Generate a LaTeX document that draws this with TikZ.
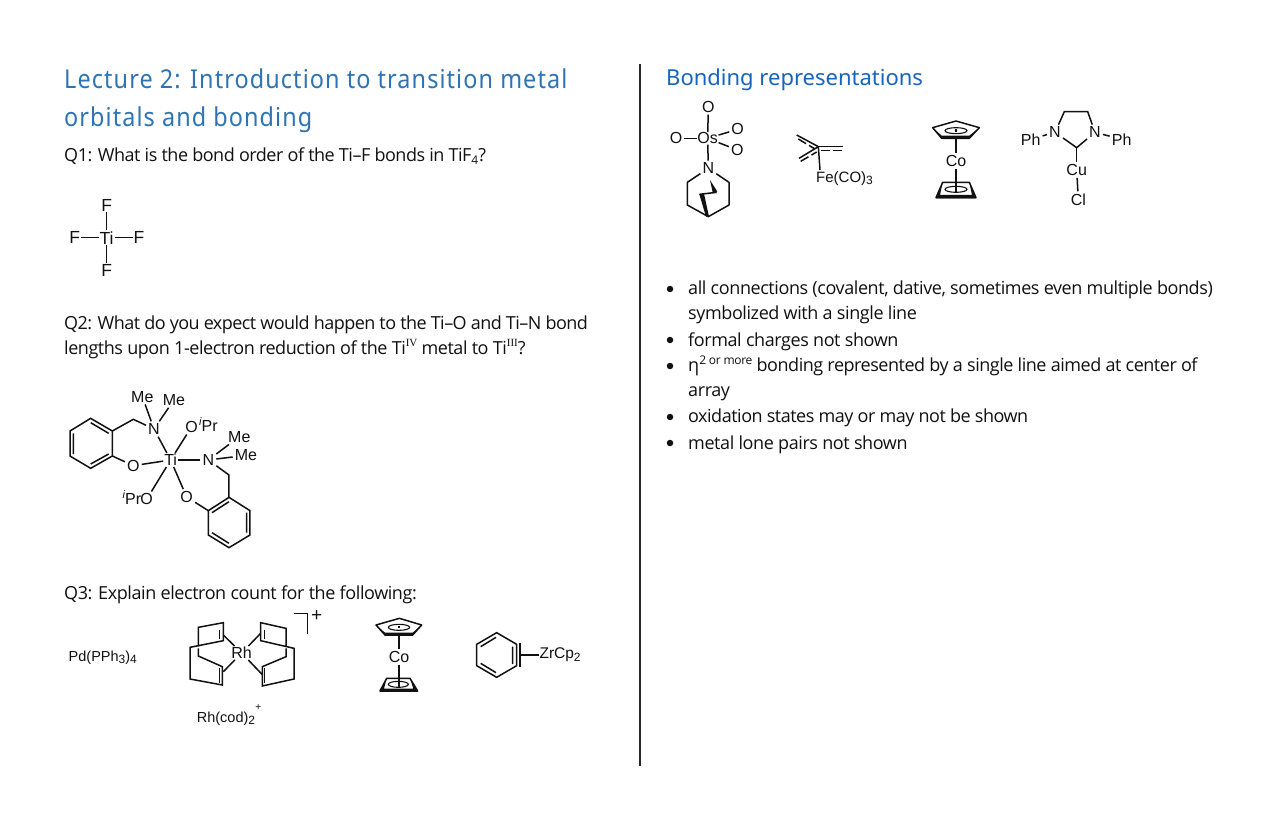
\documentclass[tikz,border=0pt]{standalone}
\usepackage{fontspec}
\setmainfont[LetterSpace=-2.3]{Open Sans}
\newfontfamily\arialf{Liberation Sans}
\newfontfamily\timesf{Liberation Serif}
\newfontfamily\titlef[LetterSpace=4.2,FakeStretch=0.9]{Noto Sans}
\newfontfamily\headf{Noto Sans}
\definecolor{titleblue}{HTML}{2E74B5}
\definecolor{headblue}{HTML}{1565C0}
\definecolor{ink}{HTML}{111111}
\tikzset{
  txt/.style={anchor=base west,inner sep=0pt,text=ink,font=\fontsize{18}{18}\selectfont},
  ttl/.style={anchor=base west,inner sep=0pt,text=titleblue,font=\fontsize{26}{26}\titlef},
  hd/.style={anchor=base west,inner sep=0pt,text=headblue,font=\fontsize{22}{22}\headf},
  atom/.style={inner sep=2pt,text=ink,font=\fontsize{16}{16}\arialf},
  bigatom/.style={inner sep=0.8pt,text=ink,font=\fontsize{17.5}{17}\arialf},
  lbl/.style={anchor=base west,inner sep=0pt,text=ink,font=\fontsize{14.5}{14}\arialf},
  bond/.style={draw=ink,line width=1.5pt},
  thin bond/.style={draw=ink,line width=1.1pt},
  zoomed/.style={x=0.33333pt,y=-0.33333pt},
  bulletdot/.style={circle,fill=ink,inner sep=0pt,minimum size=6.5pt},
  rule/.style={draw=ink!90,line width=1.2pt}
}
\newcommand{\sbs}[1]{\raisebox{-0.3ex}{\fontsize{12}{12}\selectfont #1}}
\newcommand{\sps}[1]{\raisebox{0.75ex}{\fontsize{11}{11}\timesf #1}}
\newcommand{\lsp}[1]{\addfontfeature{LetterSpace=#1}}
\begin{document}
\begin{tikzpicture}[x=1pt,y=-1pt]
\useasboundingbox (0,0) rectangle (1280,832);
\fill[white] (0,0) rectangle (1280,832);
% divider
\coordinate (ruleA) at (640,64); \coordinate (ruleB) at (640,766);
\draw[rule] (ruleA) -- (ruleB);
% left text
\node[ttl] (t1) at (64,89) {Lecture 2: Introduction to transition metal};
\node[ttl] (t2) at (64,127) {orbitals and bonding};
\node[txt] (q1) at (64,162) {\lsp{-2.7}Q1: What is the bond order of the Ti–F bonds in TiF\sbs{4}?};
\node[txt] (q2a) at (64,329) {\lsp{-3.05}Q2: What do you expect would happen to the Ti–O and Ti–N bond};
\node[txt] (q2b) at (64,354) {\lsp{-2.5}lengths upon 1-electron reduction of the Ti\sps{IV} metal to Ti\sps{III}?};
\node[txt] (q3) at (64,599) {Q3: Explain electron count for the following:};
% right text
\node[hd] (h1) at (666,86) {Bonding representations};
\node[txt] (b1) at (688,294) {all connections (covalent, dative, sometimes even multiple bonds)};
\node[txt] (b1b) at (688,319) {symbolized with a single line};
\node[txt] (b2) at (688,346) {formal charges not shown};
\node[txt] (b3) at (688,371) {\lsp{-2.6}η\raisebox{0.7ex}{\fontsize{12}{12}\selectfont 2 or more} bonding represented by a single line aimed at center of};
\node[txt] (b3b) at (688,396) {array};
\node[txt] (b4) at (688,422) {\lsp{-2.7}oxidation states may or may not be shown};
\node[txt] (b5) at (688,449) {metal lone pairs not shown};
\foreach \n/\yy in {d1/289,d2/340,d3/366,d4/417,d5/443}
  \node[bulletdot] (\n) at (670,\yy) {};

% TiF4
\begin{scope}[shift={(50,190)},zoomed]
\node[bigatom] (ti) at (170,143) {Ti};
\node[bigatom] (fa) at (170,45) {F};
\node[bigatom] (fb) at (74,143) {F};
\node[bigatom] (fc) at (267,143) {F};
\node[bigatom] (fd) at (170,240) {F};
\draw[bond] (ti)--(fa); \draw[bond] (ti)--(fb); \draw[bond] (ti)--(fc); \draw[bond] (ti)--(fd);
\end{scope}

% Ti complex
\begin{scope}[shift={(50,380)},zoomed]
\node[atom,inner sep=1pt] (tib) at (362,240) {Ti};
\node[atom] (n1) at (312,147) {N};
\node[atom] (n2) at (475,240) {N};
\node[atom] (o1) at (250,257) {O};
\node[atom] (o3) at (425,140) {O};
\node[atom,anchor=base west,inner sep=0pt] (oipr) at (447,153) {\raisebox{0.7ex}{\fontsize{11}{11}\selectfont\itshape i}Pr};
\node[atom] (o4) at (290,358) {O};
\node[atom,anchor=base east,inner sep=0pt] (ipr) at (274,373) {\raisebox{0.7ex}{\fontsize{11}{11}\selectfont\itshape i}Pr};
\node[atom] (o5) at (410,351) {O};
\node[atom] (me1) at (277,50) {Me};
\node[atom] (me2) at (372,60) {Me};
\node[atom] (me3) at (568,170) {Me};
\node[atom] (me4) at (588,226) {Me};
\draw[bond] (60,153)--(122,115)--(187,153)--(187,228)--(122,265)--(60,228)--cycle;
\draw[bond] (70,160)--(70,222) (122,128)--(176,160) (176,222)--(122,252);
\coordinate (ch1) at (250,118);
\draw[bond] (187,153)--(ch1)--(n1);
\draw[bond] (187,228)--(o1);
\draw[bond] (n1)--(tib); \draw[bond] (o1)--(tib); \draw[bond] (n2)--(tib);
\draw[bond] (o3)--(tib); \draw[bond] (o4)--(tib); \draw[bond] (o5)--(tib);
\draw[bond] (n1)--(me1); \draw[bond] (n1)--(me2);
\draw[bond] (n2)--(me3); \draw[bond] (n2)--(me4);
\coordinate (ch2) at (537,285);
\draw[bond] (n2)--(ch2)--(537,352);
\draw[bond] (537,352)--(600,392)--(600,465)--(537,503)--(475,465)--(475,392)--cycle;
\draw[bond] (590,398)--(590,458) (537,490)--(486,458) (486,398)--(537,365);
\draw[bond] (o5)--(475,392);
\end{scope}

% Pd
\node[lbl] (pd) at (68.5,661) {Pd(PPh\sbs{3})\sbs{4}};

% Rh(cod)
\begin{scope}[shift={(170,600)},zoomed]
\node[atom,inner sep=1pt] (rh) at (215,159) {Rh};
\draw[bond,line join=miter] (85,140)--(85,82)--(160,68)--(160,122)--(60,142)--(60,237)--(157,255)--(157,200)--(85,168)--(85,145);
\draw[bond] (148,90)--(148,118) (148,205)--(148,250);
\draw[bond,line join=miter] (348,140)--(348,85)--(272,68)--(272,122)--(372,145)--(372,237)--(277,258)--(277,200)--(348,170)--(348,145);
\draw[bond] (284,90)--(284,118) (284,205)--(284,250);
\coordinate (cl1) at (160,105); \coordinate (cl2) at (160,215);
\coordinate (cr1) at (272,100); \coordinate (cr2) at (278,225);
\draw[bond] (rh)--(cl1); \draw[bond] (rh)--(cl2); \draw[bond] (rh)--(cr1); \draw[bond] (rh)--(cr2);
\draw[bond,line join=miter] (373,40)--(413,40)--(413,102);
\node[atom,font=\fontsize{19}{19}\arialf] (plus) at (440,48) {+};
\node[lbl] (rhc) at (80,367) {Rh(cod)\sbs{2}};
\node[atom,font=\fontsize{10}{10}\arialf] (plusb) at (265,322) {+};
\end{scope}

% CoCp2 left
\begin{scope}[shift={(360,600)},zoomed]
\node[atom] (co) at (117,170) {Co};
\draw[bond,line join=round] (118,55)--(185,75)--(158,105)--(75,105)--(48,75)--cycle;
\fill[ink] (48,75)--(75,107)--(158,107)--(185,75)--(158,98)--(75,98)--cycle;
\draw[thin bond,fill=white] (117,82) ellipse [x radius=32,y radius=9];
\draw[thin bond] (117,78)--(117,85);
\coordinate (ctop) at (117,105); \coordinate (cbot) at (117,235);
\draw[bond] (ctop)--(co); \draw[bond] (co)--(cbot);
\draw[bond,line join=round] (80,235)--(150,235)--(173,273)--(60,273)--cycle;
\fill[ink] (80,235)--(60,275)--(173,275)--(150,235)--(160,266)--(72,266)--cycle;
\draw[thin bond] (115,253) ellipse [x radius=30,y radius=9];
\draw[bond] (117,235)--(117,260);
% benzyne
\draw[bond] (410,98)--(470,133)--(470,197)--(410,232)--(350,197)--(350,133)--cycle;
\draw[bond] (458,140)--(458,192) (408,218)--(362,190) (362,140)--(408,112);
\draw[bond] (480,130)--(480,200);
\node[atom,anchor=base west,inner sep=0pt,font=\fontsize{15.5}{15}\arialf] (zr) at (538,176) {ZrCp\sbs{2}};
\coordinate (zc) at (480,165);
\draw[bond] (zc)--(zr.west |- zc);
\end{scope}

% Os
\begin{scope}[shift={(660,95)},zoomed]
\node[atom,inner sep=0.5pt] (os) at (143,130) {Os};
\node[atom] (oa) at (145,35) {O};
\node[atom] (ob) at (48,130) {O};
\node[atom] (oc) at (233,103) {O};
\node[atom] (od) at (232,165) {O};
\node[atom] (nos) at (145,220) {N};
\draw[bond] (os)--(oa); \draw[bond] (os)--(ob); \draw[bond] (os)--(oc); \draw[bond] (os)--(od); \draw[bond] (os)--(nos);
\draw[bond,line join=round] (nos)--(82,262)--(82,330)--(145,365)--(207,330)--(207,262)--(nos);
\fill[ink] (150,255)--(158,292)--(172,290)--cycle;
\draw[bond] (170,292)--(118,298);
\fill[ink] (118,298)--(132,296)--(147,365)--(138,365)--cycle;
% butadiene Fe
\coordinate (fec) at (475,155);
\node[atom,anchor=base west,inner sep=0pt,font=\fontsize{15}{15}\arialf] (fe) at (468,262) {Fe(CO)\sbs{3}};
\draw[bond] (410,120)--(fec)--(417,190);
\draw[bond] (fec)--(550,155);
\draw[bond,dash pattern=on 9pt off 3.5pt] (415,132)--(465,162);
\draw[bond,dash pattern=on 9pt off 3.5pt] (422,199)--(470,171);
\draw[bond,dash pattern=on 9pt off 3.5pt] (482,166)--(550,166);
\draw[bond] (fec)--(480,225);
\end{scope}

% CoCp2 right and NHC
\begin{scope}[shift={(920,95)},zoomed]
\node[atom] (coc) at (108,198) {Co};
\draw[bond,line join=round] (108,78)--(178,98)--(148,130)--(65,130)--(38,98)--cycle;
\fill[ink] (38,98)--(65,132)--(148,132)--(178,98)--(148,122)--(65,122)--cycle;
\draw[thin bond,fill=white] (108,107) ellipse [x radius=33,y radius=9];
\draw[thin bond] (108,103)--(108,110);
\coordinate (dtop) at (108,130); \coordinate (dbot) at (108,262);
\draw[bond] (dtop)--(coc); \draw[bond] (coc)--(dbot);
\draw[bond,line join=round] (68,262)--(148,262)--(168,308)--(48,308)--cycle;
\fill[ink] (68,262)--(48,310)--(168,310)--(148,262)--(156,300)--(60,300)--cycle;
\draw[thin bond] (108,283) ellipse [x radius=33,y radius=9];
\draw[bond] (108,262)--(108,290);
% NHC
\node[atom] (na) at (405,112) {N};
\node[atom] (nb) at (525,112) {N};
\node[atom] (pha) at (332,133) {Ph};
\node[atom] (phb) at (605,133) {Ph};
\node[atom] (cu) at (470,225) {Cu};
\node[atom] (cl) at (475,313) {Cl};
\coordinate (cc) at (470,158);
\draw[bond] (na)--(433,50)--(503,50)--(nb);
\draw[bond] (na)--(cc)--(nb);
\draw[bond] (na)--(pha); \draw[bond] (nb)--(phb);
\draw[bond] (cc)--(cu); \draw[bond] (cu)--(cl);
\end{scope}
\end{tikzpicture}
\end{document}
